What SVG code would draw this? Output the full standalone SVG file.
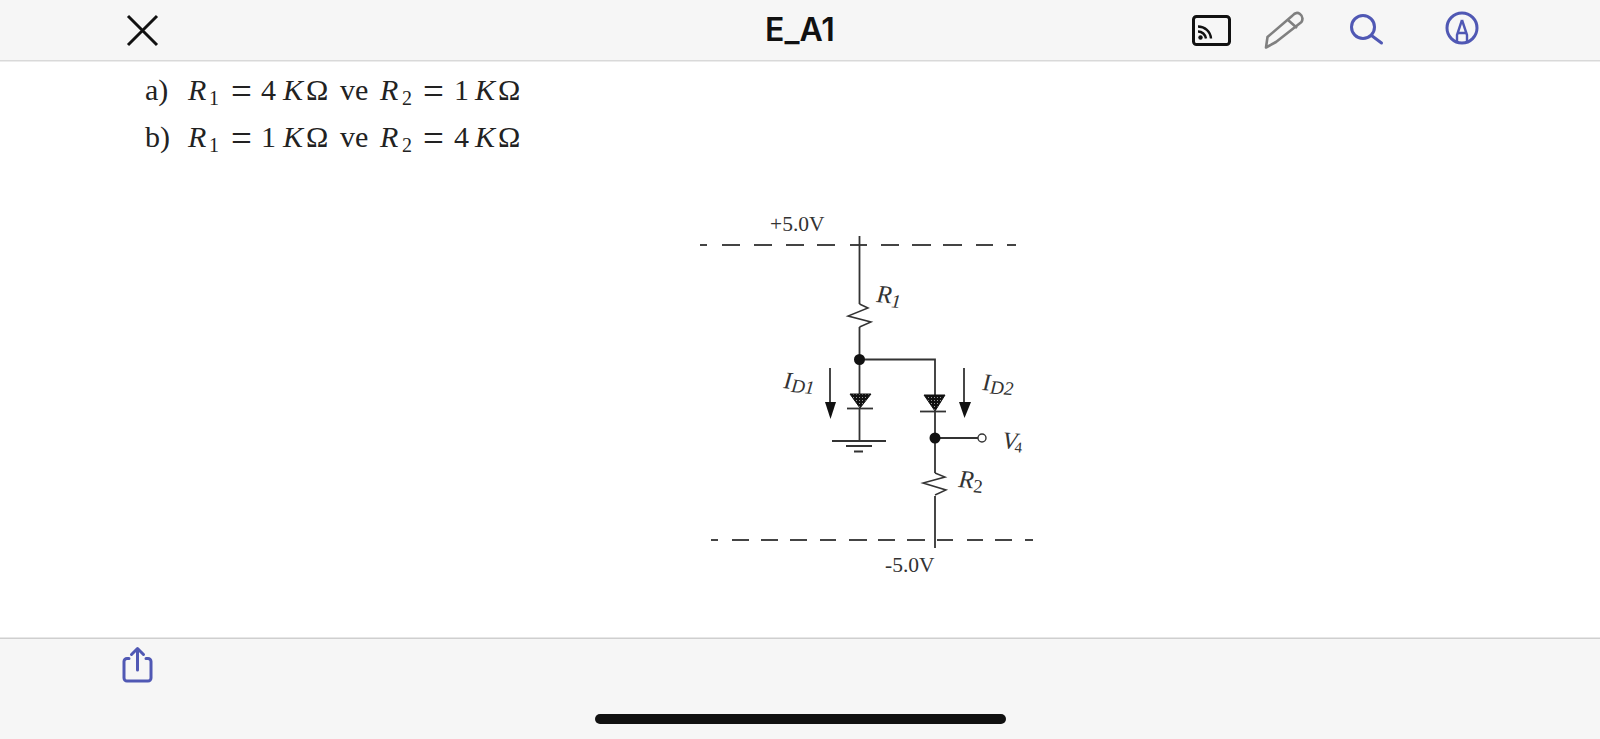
<svg xmlns="http://www.w3.org/2000/svg" width="1600" height="739" viewBox="0 0 1600 739">
<style>
.m{font-family:"Liberation Serif",serif;font-size:30px;fill:#222}
.i{font-style:italic}
.s{font-size:20px}
.e{font-size:37px}
.c{font-family:"Liberation Serif",serif;fill:#333}
.w{stroke:#333;stroke-width:1.8;fill:none}
.d{stroke:#444;stroke-width:1.8;fill:none}
.z{stroke:#333;stroke-width:1.5;fill:none;stroke-linejoin:miter}
.b{fill:none;stroke:#5058b4;stroke-width:3;stroke-linecap:round;stroke-linejoin:round}
.h{fill:#f6f6f6}
.k{fill:#111}
</style>
<defs>
<pattern id="dots" width="3" height="3" patternUnits="userSpaceOnUse"><rect width="3" height="3" fill="#111"/><rect x="1" y="1" width="1" height="1" fill="#999"/></pattern>
</defs>
<rect width="1600" height="739" fill="#fff"/>
<g id="top-bar">
<rect class="h" width="1600" height="60"/>
<rect y="60" width="1600" height="1.5" fill="#d9d9d9"/>
<path d="M128 16L157 45M157 16L128 45" stroke="#111" stroke-width="3" fill="none"/>
<text x="800" y="40.500" text-anchor="middle" font-family="Inter,'Liberation Sans',sans-serif" font-weight="600" font-size="32" fill="#111">E_A1</text>
<g id="cast-icon">
<rect x="1193.500" y="16.500" width="36" height="28" rx="3" fill="none" stroke="#111" stroke-width="3"/>
<circle cx="1200.500" cy="37.500" r="2.200" fill="#111"/>
<path d="M1198 31.500a8 8 0 0 1 8 7M1198 26.500a13 13 0 0 1 13 12" fill="none" stroke="#111" stroke-width="2.400"/>
</g>
<path id="pencil-icon" d="M1292 16q4-5 8-2t1.500 8L1276 42l-10 5.500 1.500-10.500zM1288 20l9 8" fill="none" stroke="#808080" stroke-width="2.600" stroke-linejoin="round"/>
<g id="search-icon"><circle class="b" cx="1363" cy="27" r="11.500"/><path class="b" d="M1371.500 35.500l10 7.500"/></g>
<g id="markup-icon"><circle class="b" cx="1462" cy="28" r="15"/><path d="M1462 20l-5 15v7M1462 20l5 15v7M1457.500 33h9" fill="none" stroke="#5058b4" stroke-width="2.400"/></g>
</g>
<g id="options">
<text class="m" x="145" y="100">a)</text>
<text class="m i" x="188" y="100">R</text><text class="m s" x="209" y="105">1</text>
<text class="m e" x="231" y="103.500">=</text><text class="m" x="261" y="100">4</text>
<text class="m i" x="283" y="100">K</text><text class="m" x="306" y="100">Ω</text>
<text class="m" x="340" y="100">ve</text>
<text class="m i" x="380" y="100">R</text><text class="m s" x="402" y="105">2</text>
<text class="m e" x="423" y="103.500">=</text><text class="m" x="454" y="100">1</text>
<text class="m i" x="475" y="100">K</text><text class="m" x="498" y="100">Ω</text>
<text class="m" x="145" y="147">b)</text>
<text class="m i" x="188" y="147">R</text><text class="m s" x="209" y="152">1</text>
<text class="m e" x="231" y="150.500">=</text><text class="m" x="261" y="147">1</text>
<text class="m i" x="283" y="147">K</text><text class="m" x="306" y="147">Ω</text>
<text class="m" x="340" y="147">ve</text>
<text class="m i" x="380" y="147">R</text><text class="m s" x="402" y="152">2</text>
<text class="m e" x="423" y="150.500">=</text><text class="m" x="454" y="147">4</text>
<text class="m i" x="475" y="147">K</text><text class="m" x="498" y="147">Ω</text>
</g>
<g id="connectors">
<path class="d" d="M700 245h7M722 245h18M754 245h18M786 245h18M817 245h18M850 245h17M881 245h18M912 245h19M943 245h19M976 245h17M1007 245h9"/>
<path class="d" d="M711 540h7M732 540h17M761 540h17M790 540h17M820 540h16M849 540h18M878 540h17M907 540h18M937 540h16M967 540h16M995 540h17M1025 540h8"/>
<path class="w" d="M859.500 236V304M859.500 327V394M859.500 359.500H935V395M859.500 408V441M935 411V473M935 496V548M935 438H978"/>
<path class="w" d="M830 368V403M964 368V403"/>
</g>
<g id="arrow-id1"><path class="k" d="M825 402H836L830.500 419Z"/></g>
<g id="arrow-id2"><path class="k" d="M959 402H971L964.500 418Z"/></g>
<g id="r1"><path class="z" d="M859.500 304L868 308L848 316L871 322L859.500 327"/><text class="c i" x="876" y="302" font-size="25" transform="rotate(5 876 302)">R<tspan font-size="19" dy="4">1</tspan></text></g>
<g id="r2"><path class="z" d="M935 473L945 477L923 483L946 490L935 495"/><text class="c i" x="958" y="487" font-size="25" transform="rotate(5 958 487)">R<tspan font-size="19" dy="4" font-style="normal">2</tspan></text></g>
<g id="junction-top"><circle class="k" cx="859.500" cy="359.500" r="5.500"/></g>
<g id="junction-bottom"><circle class="k" cx="935" cy="438" r="5.500"/></g>
<g id="d1"><path d="M850 394H871L860 408Z" fill="url(#dots)" stroke="#111"/><path class="w" d="M847 408.500H873"/><text class="c i" x="783" y="388" font-size="24" transform="rotate(6 783 388)">I<tspan font-size="19" dy="3">D1</tspan></text></g>
<g id="d2"><path d="M924 395H945L935 411Z" fill="url(#dots)" stroke="#111"/><path class="w" d="M920 411.500H946"/><text class="c i" x="982" y="390" font-size="24" transform="rotate(4 982 390)">I<tspan font-size="19" dy="3">D2</tspan></text></g>
<g id="ground"><path class="w" d="M832 441H886M846 446H872M854 451.500H863"/></g>
<g id="v4-terminal"><circle cx="982" cy="438" r="4" fill="#fff" stroke="#333" stroke-width="1.400"/><text class="c i" x="1002" y="448" font-size="24" transform="rotate(5 1002 448)">V<tspan font-size="15" dy="3" dx="-2" font-style="normal">4</tspan></text></g>
<g id="vplus"><text class="c" x="770" y="231" font-size="21.500">+5.0V</text></g>
<g id="vminus"><text class="c" x="885" y="572" font-size="21.500">-5.0V</text></g>
<g id="bottom-bar">
<rect class="h" y="638" width="1600" height="101"/>
<rect y="637.500" width="1600" height="1.500" fill="#cfcfcf"/>
<path class="b" d="M129 658.500H127a3 3 0 0 0-3 3V678a3 3 0 0 0 3 3H148a3 3 0 0 0 3-3V661.500a3 3 0 0 0-3-3H146M137.500 670V649M131.500 654.500L137.500 648.500L143.500 654.500" stroke-width="2.400"/>
<rect x="595" y="714" width="411" height="10" rx="5" fill="#111"/>
</g>
</svg>
